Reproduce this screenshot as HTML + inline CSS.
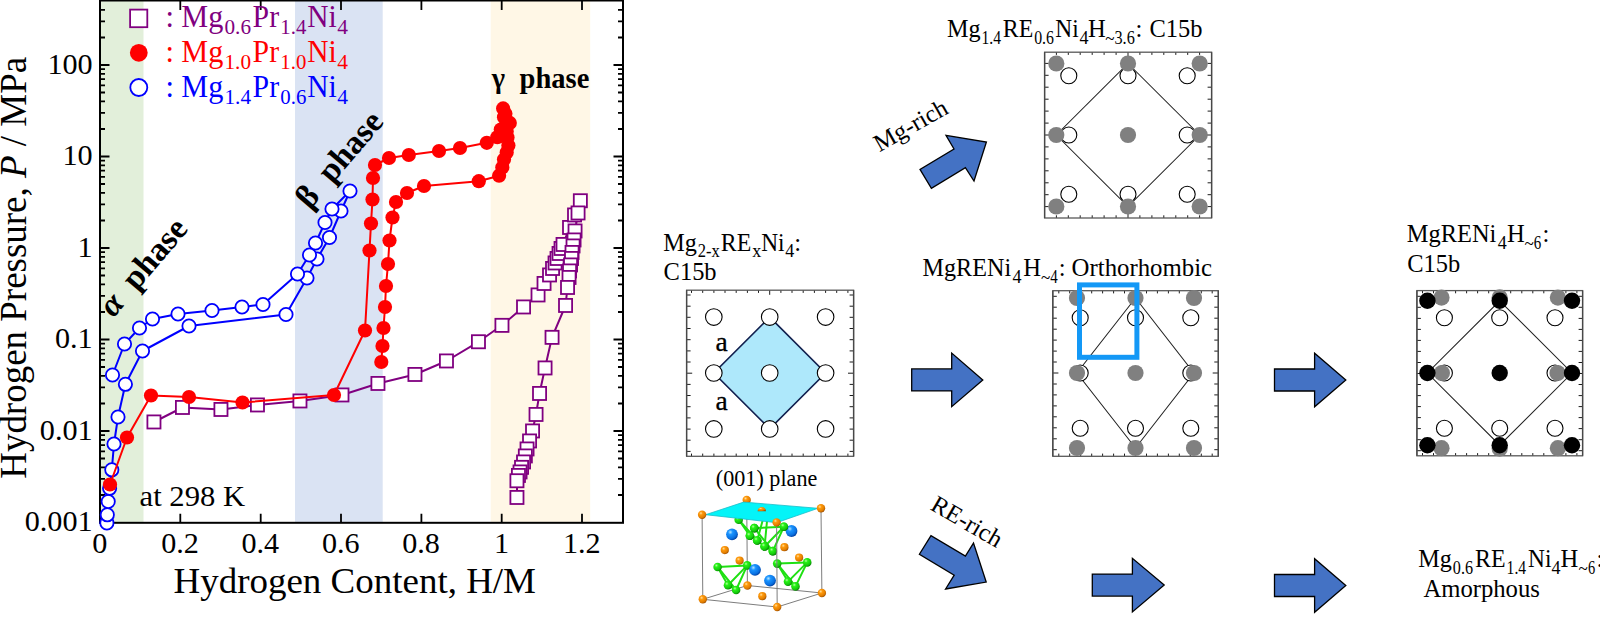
<!DOCTYPE html>
<html lang="en">
<head>
<meta charset="utf-8">
<title>Hydrogen pressure-composition isotherms of Mg-Pr-Ni alloys</title>
<style>
html,body{margin:0;padding:0;background:#fff;}
body{width:1600px;height:625px;overflow:hidden;}
svg{display:block;font-family:'Liberation Serif', 'Times New Roman', serif;}
text{white-space:pre;}
</style>
</head>
<body>
<svg width="1600" height="625" viewBox="0 0 1600 625">
<rect width="1600" height="625" fill="#fff"/>
<g id="pci-chart">
<rect x="101" y="0" width="42.5" height="522.8" fill="#e2efda"/>
<rect x="295" y="0" width="87.7" height="522.8" fill="#dae3f3"/>
<rect x="490.7" y="0" width="99.5" height="522.8" fill="#fff7e6"/>
<path d="M180.3 522.8v-9M180.3 0.5v9.5M260.7 522.8v-9M260.7 0.5v9.5M341.0 522.8v-9M341.0 0.5v9.5M421.4 522.8v-9M421.4 0.5v9.5M501.7 522.8v-9M501.7 0.5v9.5M582.0 522.8v-9M582.0 0.5v9.5M100.0 495.0h5M623.0 495.0h-5M100.0 478.8h5M623.0 478.8h-5M100.0 467.4h5M623.0 467.4h-5M100.0 458.5h5M623.0 458.5h-5M100.0 451.3h5M623.0 451.3h-5M100.0 445.2h5M623.0 445.2h-5M100.0 439.9h5M623.0 439.9h-5M100.0 435.2h5M623.0 435.2h-5M100.0 431.0h9.5M623.0 431.0h-9.5M100.0 403.5h5M623.0 403.5h-5M100.0 387.3h5M623.0 387.3h-5M100.0 375.9h5M623.0 375.9h-5M100.0 367.0h5M623.0 367.0h-5M100.0 359.8h5M623.0 359.8h-5M100.0 353.7h5M623.0 353.7h-5M100.0 348.4h5M623.0 348.4h-5M100.0 343.7h5M623.0 343.7h-5M100.0 339.5h9.5M623.0 339.5h-9.5M100.0 312.0h5M623.0 312.0h-5M100.0 295.8h5M623.0 295.8h-5M100.0 284.4h5M623.0 284.4h-5M100.0 275.5h5M623.0 275.5h-5M100.0 268.3h5M623.0 268.3h-5M100.0 262.2h5M623.0 262.2h-5M100.0 256.9h5M623.0 256.9h-5M100.0 252.2h5M623.0 252.2h-5M100.0 248.0h9.5M623.0 248.0h-9.5M100.0 220.5h5M623.0 220.5h-5M100.0 204.3h5M623.0 204.3h-5M100.0 192.9h5M623.0 192.9h-5M100.0 184.0h5M623.0 184.0h-5M100.0 176.8h5M623.0 176.8h-5M100.0 170.7h5M623.0 170.7h-5M100.0 165.4h5M623.0 165.4h-5M100.0 160.7h5M623.0 160.7h-5M100.0 156.5h9.5M623.0 156.5h-9.5M100.0 129.0h5M623.0 129.0h-5M100.0 112.8h5M623.0 112.8h-5M100.0 101.4h5M623.0 101.4h-5M100.0 92.5h5M623.0 92.5h-5M100.0 85.3h5M623.0 85.3h-5M100.0 79.2h5M623.0 79.2h-5M100.0 73.9h5M623.0 73.9h-5M100.0 69.2h5M623.0 69.2h-5M100.0 65.0h9.5M623.0 65.0h-9.5M100.0 37.5h5M623.0 37.5h-5M100.0 21.3h5M623.0 21.3h-5M100.0 9.9h5M623.0 9.9h-5" stroke="#000" stroke-width="1.8" fill="none"/>
<rect x="100.0" y="0.5" width="523.0" height="522.3" fill="none" stroke="#000" stroke-width="2"/>
<text x="47.4" y="73.7" font-size="29.4" fill="#000" textLength="45.2" lengthAdjust="spacingAndGlyphs">100</text>
<text x="62.4" y="165.2" font-size="29.4" fill="#000" textLength="30.2" lengthAdjust="spacingAndGlyphs">10</text>
<text x="77.5" y="256.7" font-size="29.4" fill="#000" textLength="15.1" lengthAdjust="spacingAndGlyphs">1</text>
<text x="54.9" y="348.2" font-size="29.4" fill="#000" textLength="37.7" lengthAdjust="spacingAndGlyphs">0.1</text>
<text x="39.8" y="439.7" font-size="29.4" fill="#000" textLength="52.8" lengthAdjust="spacingAndGlyphs">0.01</text>
<text x="24.7" y="531.2" font-size="29.4" fill="#000" textLength="67.9" lengthAdjust="spacingAndGlyphs">0.001</text>
<text x="92.2" y="552.7" font-size="29.4" fill="#000" textLength="15.1" lengthAdjust="spacingAndGlyphs">0</text>
<text x="161.2" y="552.7" font-size="29.4" fill="#000" textLength="37.7" lengthAdjust="spacingAndGlyphs">0.2</text>
<text x="241.5" y="552.7" font-size="29.4" fill="#000" textLength="37.7" lengthAdjust="spacingAndGlyphs">0.4</text>
<text x="321.9" y="552.7" font-size="29.4" fill="#000" textLength="37.7" lengthAdjust="spacingAndGlyphs">0.6</text>
<text x="402.2" y="552.7" font-size="29.4" fill="#000" textLength="37.7" lengthAdjust="spacingAndGlyphs">0.8</text>
<text x="493.9" y="552.7" font-size="29.4" fill="#000" textLength="15.1" lengthAdjust="spacingAndGlyphs">1</text>
<text x="562.9" y="552.7" font-size="29.4" fill="#000" textLength="37.7" lengthAdjust="spacingAndGlyphs">1.2</text>
<text x="173.5" y="592.7" font-size="36.6" fill="#000" textLength="362.5" lengthAdjust="spacingAndGlyphs">Hydrogen Content, H/M</text>
<text transform="translate(26.4 478.8) rotate(-90)" font-size="37" textLength="422" lengthAdjust="spacingAndGlyphs">Hydrogen Pressure, <tspan font-style="italic">P</tspan> / MPa</text>
<text x="139.6" y="505.6" font-size="29" fill="#000" textLength="105.5" lengthAdjust="spacingAndGlyphs">at 298 K</text>
<g id="series-purple">
<polyline points="154.0,422.0 182.5,407.5 221.0,409.5 257.5,405.0 300.0,401.0 342.0,395.0 378.0,383.5 415.0,374.5 446.5,361.0 478.5,341.8 502.0,325.3 523.5,307.0 538.0,295.0 544.0,283.5 549.5,275.0 552.5,268.5 555.0,263.0 557.0,258.5 559.0,253.5 561.0,248.5 563.0,244.5 569.5,227.5 574.5,215.0 580.3,200.8" fill="none" stroke="#800080" stroke-width="2" stroke-linejoin="round"/>
<polyline points="580.3,200.8 578.0,213.0 575.0,231.0 574.0,240.0 573.0,246.0 572.0,252.5 571.5,258.5 570.5,265.0 569.5,271.0 569.0,277.5 567.5,287.5 565.5,305.5 552.0,337.3 545.0,368.0 539.5,393.5 536.0,414.5 532.5,431.0 529.5,441.0 527.0,449.0 525.3,456.0 523.5,462.0 521.5,467.3 520.0,472.0 518.5,475.5 517.0,480.8 517.0,497.5" fill="none" stroke="#800080" stroke-width="2" stroke-linejoin="round"/>
<rect x="147.4" y="415.4" width="13.1" height="13.1" fill="#fff" stroke="#800080" stroke-width="1.8"/>
<rect x="175.9" y="400.9" width="13.1" height="13.1" fill="#fff" stroke="#800080" stroke-width="1.8"/>
<rect x="214.4" y="402.9" width="13.1" height="13.1" fill="#fff" stroke="#800080" stroke-width="1.8"/>
<rect x="250.9" y="398.4" width="13.1" height="13.1" fill="#fff" stroke="#800080" stroke-width="1.8"/>
<rect x="293.4" y="394.4" width="13.1" height="13.1" fill="#fff" stroke="#800080" stroke-width="1.8"/>
<rect x="335.4" y="388.4" width="13.1" height="13.1" fill="#fff" stroke="#800080" stroke-width="1.8"/>
<rect x="371.4" y="376.9" width="13.1" height="13.1" fill="#fff" stroke="#800080" stroke-width="1.8"/>
<rect x="408.4" y="367.9" width="13.1" height="13.1" fill="#fff" stroke="#800080" stroke-width="1.8"/>
<rect x="439.9" y="354.4" width="13.1" height="13.1" fill="#fff" stroke="#800080" stroke-width="1.8"/>
<rect x="471.9" y="335.2" width="13.1" height="13.1" fill="#fff" stroke="#800080" stroke-width="1.8"/>
<rect x="495.4" y="318.8" width="13.1" height="13.1" fill="#fff" stroke="#800080" stroke-width="1.8"/>
<rect x="517.0" y="300.4" width="13.1" height="13.1" fill="#fff" stroke="#800080" stroke-width="1.8"/>
<rect x="531.5" y="288.4" width="13.1" height="13.1" fill="#fff" stroke="#800080" stroke-width="1.8"/>
<rect x="537.5" y="276.9" width="13.1" height="13.1" fill="#fff" stroke="#800080" stroke-width="1.8"/>
<rect x="543.0" y="268.4" width="13.1" height="13.1" fill="#fff" stroke="#800080" stroke-width="1.8"/>
<rect x="546.0" y="261.9" width="13.1" height="13.1" fill="#fff" stroke="#800080" stroke-width="1.8"/>
<rect x="548.5" y="256.4" width="13.1" height="13.1" fill="#fff" stroke="#800080" stroke-width="1.8"/>
<rect x="550.5" y="251.9" width="13.1" height="13.1" fill="#fff" stroke="#800080" stroke-width="1.8"/>
<rect x="552.5" y="246.9" width="13.1" height="13.1" fill="#fff" stroke="#800080" stroke-width="1.8"/>
<rect x="554.5" y="241.9" width="13.1" height="13.1" fill="#fff" stroke="#800080" stroke-width="1.8"/>
<rect x="556.5" y="237.9" width="13.1" height="13.1" fill="#fff" stroke="#800080" stroke-width="1.8"/>
<rect x="563.0" y="220.9" width="13.1" height="13.1" fill="#fff" stroke="#800080" stroke-width="1.8"/>
<rect x="568.0" y="208.4" width="13.1" height="13.1" fill="#fff" stroke="#800080" stroke-width="1.8"/>
<rect x="573.8" y="194.2" width="13.1" height="13.1" fill="#fff" stroke="#800080" stroke-width="1.8"/>
<rect x="571.5" y="206.4" width="13.1" height="13.1" fill="#fff" stroke="#800080" stroke-width="1.8"/>
<rect x="568.5" y="224.4" width="13.1" height="13.1" fill="#fff" stroke="#800080" stroke-width="1.8"/>
<rect x="567.5" y="233.4" width="13.1" height="13.1" fill="#fff" stroke="#800080" stroke-width="1.8"/>
<rect x="566.5" y="239.4" width="13.1" height="13.1" fill="#fff" stroke="#800080" stroke-width="1.8"/>
<rect x="565.5" y="245.9" width="13.1" height="13.1" fill="#fff" stroke="#800080" stroke-width="1.8"/>
<rect x="565.0" y="251.9" width="13.1" height="13.1" fill="#fff" stroke="#800080" stroke-width="1.8"/>
<rect x="564.0" y="258.4" width="13.1" height="13.1" fill="#fff" stroke="#800080" stroke-width="1.8"/>
<rect x="563.0" y="264.4" width="13.1" height="13.1" fill="#fff" stroke="#800080" stroke-width="1.8"/>
<rect x="562.5" y="270.9" width="13.1" height="13.1" fill="#fff" stroke="#800080" stroke-width="1.8"/>
<rect x="561.0" y="280.9" width="13.1" height="13.1" fill="#fff" stroke="#800080" stroke-width="1.8"/>
<rect x="559.0" y="298.9" width="13.1" height="13.1" fill="#fff" stroke="#800080" stroke-width="1.8"/>
<rect x="545.5" y="330.8" width="13.1" height="13.1" fill="#fff" stroke="#800080" stroke-width="1.8"/>
<rect x="538.5" y="361.4" width="13.1" height="13.1" fill="#fff" stroke="#800080" stroke-width="1.8"/>
<rect x="533.0" y="386.9" width="13.1" height="13.1" fill="#fff" stroke="#800080" stroke-width="1.8"/>
<rect x="529.5" y="407.9" width="13.1" height="13.1" fill="#fff" stroke="#800080" stroke-width="1.8"/>
<rect x="526.0" y="424.4" width="13.1" height="13.1" fill="#fff" stroke="#800080" stroke-width="1.8"/>
<rect x="523.0" y="434.4" width="13.1" height="13.1" fill="#fff" stroke="#800080" stroke-width="1.8"/>
<rect x="520.5" y="442.4" width="13.1" height="13.1" fill="#fff" stroke="#800080" stroke-width="1.8"/>
<rect x="518.8" y="449.4" width="13.1" height="13.1" fill="#fff" stroke="#800080" stroke-width="1.8"/>
<rect x="517.0" y="455.4" width="13.1" height="13.1" fill="#fff" stroke="#800080" stroke-width="1.8"/>
<rect x="515.0" y="460.8" width="13.1" height="13.1" fill="#fff" stroke="#800080" stroke-width="1.8"/>
<rect x="513.5" y="465.4" width="13.1" height="13.1" fill="#fff" stroke="#800080" stroke-width="1.8"/>
<rect x="511.9" y="468.9" width="13.1" height="13.1" fill="#fff" stroke="#800080" stroke-width="1.8"/>
<rect x="510.4" y="474.2" width="13.1" height="13.1" fill="#fff" stroke="#800080" stroke-width="1.8"/>
<rect x="510.4" y="490.9" width="13.1" height="13.1" fill="#fff" stroke="#800080" stroke-width="1.8"/>
</g>
<g id="series-blue">
<polyline points="112.5,375.0 124.5,344.0 139.5,328.0 152.5,319.0 178.0,314.0 212.0,310.5 242.0,307.0 263.0,304.5 297.5,274.0 309.5,255.0 315.5,243.0 325.0,222.5 332.0,209.0 350.0,191.0" fill="none" stroke="#0000ff" stroke-width="2" stroke-linejoin="round"/>
<polyline points="350.0,191.0 341.0,211.0 329.5,237.5 317.0,259.0 307.0,278.0 286.0,314.5 189.0,326.0 142.5,351.0 125.4,384.3 118.0,417.0 114.0,444.0 111.8,469.8 109.6,488.3 108.2,501.5 107.3,514.8 106.9,522.9" fill="none" stroke="#0000ff" stroke-width="2" stroke-linejoin="round"/>
<circle cx="106.9" cy="522.9" r="6.65" fill="#fff" stroke="#0000ff" stroke-width="1.8"/>
<circle cx="107.3" cy="514.8" r="6.65" fill="#fff" stroke="#0000ff" stroke-width="1.8"/>
<circle cx="108.2" cy="501.5" r="6.65" fill="#fff" stroke="#0000ff" stroke-width="1.8"/>
<circle cx="109.6" cy="488.3" r="6.65" fill="#fff" stroke="#0000ff" stroke-width="1.8"/>
<circle cx="111.8" cy="469.8" r="6.65" fill="#fff" stroke="#0000ff" stroke-width="1.8"/>
<circle cx="114.0" cy="444.0" r="6.65" fill="#fff" stroke="#0000ff" stroke-width="1.8"/>
<circle cx="118.0" cy="417.0" r="6.65" fill="#fff" stroke="#0000ff" stroke-width="1.8"/>
<circle cx="125.4" cy="384.3" r="6.65" fill="#fff" stroke="#0000ff" stroke-width="1.8"/>
<circle cx="142.5" cy="351.0" r="6.65" fill="#fff" stroke="#0000ff" stroke-width="1.8"/>
<circle cx="189.0" cy="326.0" r="6.65" fill="#fff" stroke="#0000ff" stroke-width="1.8"/>
<circle cx="286.0" cy="314.5" r="6.65" fill="#fff" stroke="#0000ff" stroke-width="1.8"/>
<circle cx="307.0" cy="278.0" r="6.65" fill="#fff" stroke="#0000ff" stroke-width="1.8"/>
<circle cx="317.0" cy="259.0" r="6.65" fill="#fff" stroke="#0000ff" stroke-width="1.8"/>
<circle cx="329.5" cy="237.5" r="6.65" fill="#fff" stroke="#0000ff" stroke-width="1.8"/>
<circle cx="341.0" cy="211.0" r="6.65" fill="#fff" stroke="#0000ff" stroke-width="1.8"/>
<circle cx="350.0" cy="191.0" r="6.65" fill="#fff" stroke="#0000ff" stroke-width="1.8"/>
<circle cx="112.5" cy="375.0" r="6.65" fill="#fff" stroke="#0000ff" stroke-width="1.8"/>
<circle cx="124.5" cy="344.0" r="6.65" fill="#fff" stroke="#0000ff" stroke-width="1.8"/>
<circle cx="139.5" cy="328.0" r="6.65" fill="#fff" stroke="#0000ff" stroke-width="1.8"/>
<circle cx="152.5" cy="319.0" r="6.65" fill="#fff" stroke="#0000ff" stroke-width="1.8"/>
<circle cx="178.0" cy="314.0" r="6.65" fill="#fff" stroke="#0000ff" stroke-width="1.8"/>
<circle cx="212.0" cy="310.5" r="6.65" fill="#fff" stroke="#0000ff" stroke-width="1.8"/>
<circle cx="242.0" cy="307.0" r="6.65" fill="#fff" stroke="#0000ff" stroke-width="1.8"/>
<circle cx="263.0" cy="304.5" r="6.65" fill="#fff" stroke="#0000ff" stroke-width="1.8"/>
<circle cx="297.5" cy="274.0" r="6.65" fill="#fff" stroke="#0000ff" stroke-width="1.8"/>
<circle cx="309.5" cy="255.0" r="6.65" fill="#fff" stroke="#0000ff" stroke-width="1.8"/>
<circle cx="315.5" cy="243.0" r="6.65" fill="#fff" stroke="#0000ff" stroke-width="1.8"/>
<circle cx="325.0" cy="222.5" r="6.65" fill="#fff" stroke="#0000ff" stroke-width="1.8"/>
<circle cx="332.0" cy="209.0" r="6.65" fill="#fff" stroke="#0000ff" stroke-width="1.8"/>
</g>
<g id="series-red">
<polyline points="110.0,484.5 127.0,437.5 151.0,395.5 189.0,397.0 242.5,402.5 334.0,395.0 365.0,330.5 369.5,250.5 371.0,223.5 372.5,199.5 373.0,178.0 375.0,165.0 389.0,158.0 408.8,155.0 439.0,151.0 460.0,148.0 486.8,142.8 497.3,137.2 500.8,129.6 504.0,117.3 503.1,108.4" fill="none" stroke="#ff0000" stroke-width="2" stroke-linejoin="round"/>
<polyline points="503.1,108.4 505.4,113.8 509.8,122.9 506.7,131.4 507.5,137.5 508.4,145.5 506.7,152.5 504.0,159.5 502.3,167.5 499.1,175.7 478.8,181.2 424.0,186.0 407.0,193.0 396.0,202.0 392.5,217.5 389.5,240.5 388.0,264.0 386.0,286.0 385.0,307.0 383.5,328.0 382.5,346.0 381.3,362.0" fill="none" stroke="#ff0000" stroke-width="2" stroke-linejoin="round"/>
<circle cx="110.0" cy="484.5" r="7.1" fill="#ff0000"/>
<circle cx="127.0" cy="437.5" r="7.1" fill="#ff0000"/>
<circle cx="151.0" cy="395.5" r="7.1" fill="#ff0000"/>
<circle cx="189.0" cy="397.0" r="7.1" fill="#ff0000"/>
<circle cx="242.5" cy="402.5" r="7.1" fill="#ff0000"/>
<circle cx="334.0" cy="395.0" r="7.1" fill="#ff0000"/>
<circle cx="365.0" cy="330.5" r="7.1" fill="#ff0000"/>
<circle cx="369.5" cy="250.5" r="7.1" fill="#ff0000"/>
<circle cx="371.0" cy="223.5" r="7.1" fill="#ff0000"/>
<circle cx="372.5" cy="199.5" r="7.1" fill="#ff0000"/>
<circle cx="373.0" cy="178.0" r="7.1" fill="#ff0000"/>
<circle cx="375.0" cy="165.0" r="7.1" fill="#ff0000"/>
<circle cx="389.0" cy="158.0" r="7.1" fill="#ff0000"/>
<circle cx="408.8" cy="155.0" r="7.1" fill="#ff0000"/>
<circle cx="439.0" cy="151.0" r="7.1" fill="#ff0000"/>
<circle cx="460.0" cy="148.0" r="7.1" fill="#ff0000"/>
<circle cx="486.8" cy="142.8" r="7.1" fill="#ff0000"/>
<circle cx="497.3" cy="137.2" r="7.1" fill="#ff0000"/>
<circle cx="500.8" cy="129.6" r="7.1" fill="#ff0000"/>
<circle cx="504.0" cy="117.3" r="7.1" fill="#ff0000"/>
<circle cx="503.1" cy="108.4" r="7.1" fill="#ff0000"/>
<circle cx="505.4" cy="113.8" r="7.1" fill="#ff0000"/>
<circle cx="509.8" cy="122.9" r="7.1" fill="#ff0000"/>
<circle cx="506.7" cy="131.4" r="7.1" fill="#ff0000"/>
<circle cx="507.5" cy="137.5" r="7.1" fill="#ff0000"/>
<circle cx="508.4" cy="145.5" r="7.1" fill="#ff0000"/>
<circle cx="506.7" cy="152.5" r="7.1" fill="#ff0000"/>
<circle cx="504.0" cy="159.5" r="7.1" fill="#ff0000"/>
<circle cx="502.3" cy="167.5" r="7.1" fill="#ff0000"/>
<circle cx="499.1" cy="175.7" r="7.1" fill="#ff0000"/>
<circle cx="478.8" cy="181.2" r="7.1" fill="#ff0000"/>
<circle cx="424.0" cy="186.0" r="7.1" fill="#ff0000"/>
<circle cx="407.0" cy="193.0" r="7.1" fill="#ff0000"/>
<circle cx="396.0" cy="202.0" r="7.1" fill="#ff0000"/>
<circle cx="392.5" cy="217.5" r="7.1" fill="#ff0000"/>
<circle cx="389.5" cy="240.5" r="7.1" fill="#ff0000"/>
<circle cx="388.0" cy="264.0" r="7.1" fill="#ff0000"/>
<circle cx="386.0" cy="286.0" r="7.1" fill="#ff0000"/>
<circle cx="385.0" cy="307.0" r="7.1" fill="#ff0000"/>
<circle cx="383.5" cy="328.0" r="7.1" fill="#ff0000"/>
<circle cx="382.5" cy="346.0" r="7.1" fill="#ff0000"/>
<circle cx="381.3" cy="362.0" r="7.1" fill="#ff0000"/>
</g>
<text transform="translate(113.4 318.2) rotate(-49.5)" font-size="33.3" font-weight="bold"><tspan font-style="italic">α</tspan>  phase</text>
<text transform="translate(309.8 210.3) rotate(-49.5)" font-size="33.3" font-weight="bold">β  phase</text>
<text x="491.8" y="87.6" font-size="28.4" fill="#000" font-weight="bold">γ</text>
<text x="519.6" y="87.6" font-size="28.4" fill="#000" font-weight="bold" textLength="69.8" lengthAdjust="spacingAndGlyphs">phase</text>
<g id="legend">
<text x="165.4" y="27.3" font-size="30.5" fill="#800080">:</text>
<text x="181.3" y="27.3" font-size="30.5" fill="#800080" textLength="42.0" lengthAdjust="spacingAndGlyphs">Mg</text>
<text x="224.5" y="34.1" font-size="21.5" fill="#800080" textLength="26.5" lengthAdjust="spacingAndGlyphs">0.6</text>
<text x="252.6" y="27.3" font-size="30.5" fill="#800080" textLength="26.5" lengthAdjust="spacingAndGlyphs">Pr</text>
<text x="280.3" y="34.1" font-size="21.5" fill="#800080" textLength="26.0" lengthAdjust="spacingAndGlyphs">1.4</text>
<text x="307.2" y="27.3" font-size="30.5" fill="#800080" textLength="29.5" lengthAdjust="spacingAndGlyphs">Ni</text>
<text x="337.2" y="34.1" font-size="21.5" fill="#800080">4</text>
<text x="165.4" y="62.0" font-size="30.5" fill="#ff0000">:</text>
<text x="181.3" y="62.0" font-size="30.5" fill="#ff0000" textLength="42.0" lengthAdjust="spacingAndGlyphs">Mg</text>
<text x="224.5" y="68.8" font-size="21.5" fill="#ff0000" textLength="26.5" lengthAdjust="spacingAndGlyphs">1.0</text>
<text x="252.6" y="62.0" font-size="30.5" fill="#ff0000" textLength="26.5" lengthAdjust="spacingAndGlyphs">Pr</text>
<text x="280.3" y="68.8" font-size="21.5" fill="#ff0000" textLength="26.0" lengthAdjust="spacingAndGlyphs">1.0</text>
<text x="307.2" y="62.0" font-size="30.5" fill="#ff0000" textLength="29.5" lengthAdjust="spacingAndGlyphs">Ni</text>
<text x="337.2" y="68.8" font-size="21.5" fill="#ff0000">4</text>
<text x="165.4" y="96.8" font-size="30.5" fill="#0000ff">:</text>
<text x="181.3" y="96.8" font-size="30.5" fill="#0000ff" textLength="42.0" lengthAdjust="spacingAndGlyphs">Mg</text>
<text x="224.5" y="103.6" font-size="21.5" fill="#0000ff" textLength="26.5" lengthAdjust="spacingAndGlyphs">1.4</text>
<text x="252.6" y="96.8" font-size="30.5" fill="#0000ff" textLength="26.5" lengthAdjust="spacingAndGlyphs">Pr</text>
<text x="280.3" y="103.6" font-size="21.5" fill="#0000ff" textLength="26.0" lengthAdjust="spacingAndGlyphs">0.6</text>
<text x="307.2" y="96.8" font-size="30.5" fill="#0000ff" textLength="29.5" lengthAdjust="spacingAndGlyphs">Ni</text>
<text x="337.2" y="103.6" font-size="21.5" fill="#0000ff">4</text>
<rect x="130.1" y="9.6" width="17.2" height="17.6" fill="#fff" stroke="#800080" stroke-width="1.8"/>
<circle cx="138.8" cy="52.8" r="8.9" fill="#ff0000"/>
<circle cx="138.8" cy="87.5" r="8.5" fill="#fff" stroke="#0000ff" stroke-width="1.8"/>
</g>
</g>
<g id="scheme">
<g id="cell-c15b">
<polygon points="769.7,317.1 825.6,373.0 769.7,428.9 713.8,373.0" fill="#aee8fb" stroke="#12204f" stroke-width="1.6" stroke-linejoin="miter"/>
<path d="M691.5 290.2v2.7M691.5 456.3v-2.7M686.6 295.0h4.0M853.6 295.0h-4.0M702.7 290.2v2.7M702.7 456.3v-2.7M686.6 306.2h4.0M853.6 306.2h-4.0M713.9 290.2v2.7M713.9 456.3v-2.7M686.6 317.3h4.0M853.6 317.3h-4.0M725.0 290.2v2.7M725.0 456.3v-2.7M686.6 328.5h4.0M853.6 328.5h-4.0M736.2 290.2v2.7M736.2 456.3v-2.7M686.6 339.7h4.0M853.6 339.7h-4.0M747.4 290.2v2.7M747.4 456.3v-2.7M686.6 350.9h4.0M853.6 350.9h-4.0M758.5 290.2v2.7M758.5 456.3v-2.7M686.6 362.0h4.0M853.6 362.0h-4.0M769.7 290.2v4.6M769.7 456.3v-4.6M686.6 373.2h5.6M853.6 373.2h-5.6M780.9 290.2v2.7M780.9 456.3v-2.7M686.6 384.4h4.0M853.6 384.4h-4.0M792.0 290.2v2.7M792.0 456.3v-2.7M686.6 395.5h4.0M853.6 395.5h-4.0M803.2 290.2v2.7M803.2 456.3v-2.7M686.6 406.7h4.0M853.6 406.7h-4.0M814.4 290.2v2.7M814.4 456.3v-2.7M686.6 417.9h4.0M853.6 417.9h-4.0M825.6 290.2v2.7M825.6 456.3v-2.7M686.6 429.1h4.0M853.6 429.1h-4.0M836.7 290.2v2.7M836.7 456.3v-2.7M686.6 440.2h4.0M853.6 440.2h-4.0M847.9 290.2v2.7M847.9 456.3v-2.7M686.6 451.4h4.0M853.6 451.4h-4.0" stroke="#1c1c1c" stroke-width="1" fill="none"/>
<rect x="686.6" y="290.2" width="167.0" height="166.1" fill="none" stroke="#595959" stroke-width="1.3"/>
<path d="M686.6 290.2V456.3M853.6 290.2V456.3" stroke="#484848" stroke-width="1.3" fill="none"/>
<circle cx="713.8" cy="317.1" r="8.3" fill="#fff" stroke="#000" stroke-width="1.1"/>
<circle cx="769.7" cy="317.1" r="8.3" fill="#fff" stroke="#000" stroke-width="1.1"/>
<circle cx="825.6" cy="317.1" r="8.3" fill="#fff" stroke="#000" stroke-width="1.1"/>
<circle cx="713.8" cy="373.0" r="8.3" fill="#fff" stroke="#000" stroke-width="1.1"/>
<circle cx="769.7" cy="373.0" r="8.3" fill="#fff" stroke="#000" stroke-width="1.1"/>
<circle cx="825.6" cy="373.0" r="8.3" fill="#fff" stroke="#000" stroke-width="1.1"/>
<circle cx="713.8" cy="428.9" r="8.3" fill="#fff" stroke="#000" stroke-width="1.1"/>
<circle cx="769.7" cy="428.9" r="8.3" fill="#fff" stroke="#000" stroke-width="1.1"/>
<circle cx="825.6" cy="428.9" r="8.3" fill="#fff" stroke="#000" stroke-width="1.1"/>
<text x="715.6" y="351.2" font-size="27.5" fill="#000" stroke="#000" stroke-width="0.3">a</text>
<text x="715.6" y="409.7" font-size="27.5" fill="#000" stroke="#000" stroke-width="0.3">a</text>
</g>
<text x="663.2" y="250.6" font-size="24.6" fill="#000" textLength="33.6" lengthAdjust="spacingAndGlyphs">Mg</text>
<text x="697.8" y="257.3" font-size="18.0" fill="#000" textLength="22.0" lengthAdjust="spacingAndGlyphs">2-x</text>
<text x="720.8" y="250.6" font-size="24.6" fill="#000" textLength="30.5" lengthAdjust="spacingAndGlyphs">RE</text>
<text x="752.3" y="257.3" font-size="18.0" fill="#000">x</text>
<text x="761.2" y="250.6" font-size="24.6" fill="#000" textLength="23.4" lengthAdjust="spacingAndGlyphs">Ni</text>
<text x="785.3" y="257.3" font-size="18.0" fill="#000">4</text>
<text x="794.2" y="250.6" font-size="24.6" fill="#000">:</text>
<text x="663.6" y="280.2" font-size="24.6" fill="#000" textLength="53.0" lengthAdjust="spacingAndGlyphs">C15b</text>
<g id="cell-mg-rich">
<polygon points="1128.0,63.5 1199.7,135.0 1128.0,206.5 1056.3,135.0" fill="none" stroke="#222" stroke-width="1.05" stroke-linejoin="miter"/>
<path d="M1056.4 52.2v2.7M1056.4 218.0v-2.7M1044.6 63.4h4.0M1211.6 63.4h-4.0M1068.3 52.2v2.7M1068.3 218.0v-2.7M1044.6 75.3h4.0M1211.6 75.3h-4.0M1080.2 52.2v2.7M1080.2 218.0v-2.7M1044.6 87.2h4.0M1211.6 87.2h-4.0M1092.2 52.2v2.7M1092.2 218.0v-2.7M1044.6 99.2h4.0M1211.6 99.2h-4.0M1104.1 52.2v2.7M1104.1 218.0v-2.7M1044.6 111.1h4.0M1211.6 111.1h-4.0M1116.1 52.2v2.7M1116.1 218.0v-2.7M1044.6 123.1h4.0M1211.6 123.1h-4.0M1128.0 52.2v4.6M1128.0 218.0v-4.6M1044.6 135.0h5.6M1211.6 135.0h-5.6M1139.9 52.2v2.7M1139.9 218.0v-2.7M1044.6 146.9h4.0M1211.6 146.9h-4.0M1151.9 52.2v2.7M1151.9 218.0v-2.7M1044.6 158.9h4.0M1211.6 158.9h-4.0M1163.8 52.2v2.7M1163.8 218.0v-2.7M1044.6 170.8h4.0M1211.6 170.8h-4.0M1175.8 52.2v2.7M1175.8 218.0v-2.7M1044.6 182.8h4.0M1211.6 182.8h-4.0M1187.7 52.2v2.7M1187.7 218.0v-2.7M1044.6 194.7h4.0M1211.6 194.7h-4.0M1199.6 52.2v2.7M1199.6 218.0v-2.7M1044.6 206.6h4.0M1211.6 206.6h-4.0" stroke="#1c1c1c" stroke-width="1" fill="none"/>
<rect x="1044.6" y="52.2" width="167.0" height="165.8" fill="none" stroke="#595959" stroke-width="1.3"/>
<path d="M1044.6 52.2V218.0M1211.6 52.2V218.0" stroke="#484848" stroke-width="1.3" fill="none"/>
<circle cx="1068.8" cy="75.8" r="8.0" fill="#fff" stroke="#000" stroke-width="1.1"/>
<circle cx="1128.0" cy="75.8" r="8.0" fill="#fff" stroke="#000" stroke-width="1.1"/>
<circle cx="1187.2" cy="75.8" r="8.0" fill="#fff" stroke="#000" stroke-width="1.1"/>
<circle cx="1068.8" cy="135.0" r="8.0" fill="#fff" stroke="#000" stroke-width="1.1"/>
<circle cx="1187.2" cy="135.0" r="8.0" fill="#fff" stroke="#000" stroke-width="1.1"/>
<circle cx="1068.8" cy="194.2" r="8.0" fill="#fff" stroke="#000" stroke-width="1.1"/>
<circle cx="1128.0" cy="194.2" r="8.0" fill="#fff" stroke="#000" stroke-width="1.1"/>
<circle cx="1187.2" cy="194.2" r="8.0" fill="#fff" stroke="#000" stroke-width="1.1"/>
<circle cx="1056.3" cy="63.5" r="8.1" fill="#808080"/>
<circle cx="1128.0" cy="63.5" r="8.1" fill="#808080"/>
<circle cx="1199.7" cy="63.5" r="8.1" fill="#808080"/>
<circle cx="1056.3" cy="135.0" r="8.1" fill="#808080"/>
<circle cx="1128.0" cy="135.0" r="8.1" fill="#808080"/>
<circle cx="1199.7" cy="135.0" r="8.1" fill="#808080"/>
<circle cx="1056.3" cy="206.5" r="8.1" fill="#808080"/>
<circle cx="1128.0" cy="206.5" r="8.1" fill="#808080"/>
<circle cx="1199.7" cy="206.5" r="8.1" fill="#808080"/>
</g>
<text x="947.0" y="37.2" font-size="24.6" fill="#000" textLength="33.6" lengthAdjust="spacingAndGlyphs">Mg</text>
<text x="981.5" y="43.9" font-size="18.0" fill="#000" textLength="19.5" lengthAdjust="spacingAndGlyphs">1.4</text>
<text x="1002.8" y="37.2" font-size="24.6" fill="#000" textLength="30.5" lengthAdjust="spacingAndGlyphs">RE</text>
<text x="1034.2" y="43.9" font-size="18.0" fill="#000" textLength="19.8" lengthAdjust="spacingAndGlyphs">0.6</text>
<text x="1055.3" y="37.2" font-size="24.6" fill="#000" textLength="23.4" lengthAdjust="spacingAndGlyphs">Ni</text>
<text x="1079.4" y="43.9" font-size="18.0" fill="#000">4</text>
<text x="1088.0" y="37.2" font-size="24.6" fill="#000">H</text>
<text x="1105.2" y="44.7" font-size="18.0" fill="#000" textLength="9.3" lengthAdjust="spacingAndGlyphs">~</text>
<text x="1114.5" y="43.9" font-size="18.0" fill="#000" textLength="20.3" lengthAdjust="spacingAndGlyphs">3.6</text>
<text x="1135.6" y="37.2" font-size="24.6" fill="#000">:</text>
<text x="1149.5" y="37.2" font-size="24.6" fill="#000" textLength="53.0" lengthAdjust="spacingAndGlyphs">C15b</text>
<g id="cell-orthorhombic">
<polygon points="1135.5,298.0 1193.9,373.0 1135.5,448.0 1076.9,373.0" fill="none" stroke="#222" stroke-width="1.05" stroke-linejoin="miter"/>
<path d="M1058.8 290.7v2.7M1058.8 456.3v-2.7M1052.8 296.3h4.0M1218.3 296.3h-4.0M1069.7 290.7v2.7M1069.7 456.3v-2.7M1052.8 307.2h4.0M1218.3 307.2h-4.0M1080.7 290.7v2.7M1080.7 456.3v-2.7M1052.8 318.2h4.0M1218.3 318.2h-4.0M1091.7 290.7v2.7M1091.7 456.3v-2.7M1052.8 329.2h4.0M1218.3 329.2h-4.0M1102.6 290.7v2.7M1102.6 456.3v-2.7M1052.8 340.1h4.0M1218.3 340.1h-4.0M1113.6 290.7v2.7M1113.6 456.3v-2.7M1052.8 351.1h4.0M1218.3 351.1h-4.0M1124.5 290.7v2.7M1124.5 456.3v-2.7M1052.8 362.0h4.0M1218.3 362.0h-4.0M1135.5 290.7v4.6M1135.5 456.3v-4.6M1052.8 373.0h5.6M1218.3 373.0h-5.6M1146.5 290.7v2.7M1146.5 456.3v-2.7M1052.8 384.0h4.0M1218.3 384.0h-4.0M1157.4 290.7v2.7M1157.4 456.3v-2.7M1052.8 394.9h4.0M1218.3 394.9h-4.0M1168.4 290.7v2.7M1168.4 456.3v-2.7M1052.8 405.9h4.0M1218.3 405.9h-4.0M1179.3 290.7v2.7M1179.3 456.3v-2.7M1052.8 416.8h4.0M1218.3 416.8h-4.0M1190.3 290.7v2.7M1190.3 456.3v-2.7M1052.8 427.8h4.0M1218.3 427.8h-4.0M1201.3 290.7v2.7M1201.3 456.3v-2.7M1052.8 438.8h4.0M1218.3 438.8h-4.0M1212.2 290.7v2.7M1212.2 456.3v-2.7M1052.8 449.7h4.0M1218.3 449.7h-4.0" stroke="#1c1c1c" stroke-width="1" fill="none"/>
<rect x="1052.8" y="290.7" width="165.5" height="165.6" fill="none" stroke="#595959" stroke-width="1.3"/>
<path d="M1052.8 290.7V456.3M1218.3 290.7V456.3" stroke="#484848" stroke-width="1.3" fill="none"/>
<circle cx="1080.2" cy="317.7" r="8.0" fill="#fff" stroke="#000" stroke-width="1.1"/>
<circle cx="1135.5" cy="317.7" r="8.0" fill="#fff" stroke="#000" stroke-width="1.1"/>
<circle cx="1190.8" cy="317.7" r="8.0" fill="#fff" stroke="#000" stroke-width="1.1"/>
<circle cx="1080.2" cy="373.0" r="8.0" fill="#fff" stroke="#000" stroke-width="1.1"/>
<circle cx="1190.8" cy="373.0" r="8.0" fill="#fff" stroke="#000" stroke-width="1.1"/>
<circle cx="1080.2" cy="428.3" r="8.0" fill="#fff" stroke="#000" stroke-width="1.1"/>
<circle cx="1135.5" cy="428.3" r="8.0" fill="#fff" stroke="#000" stroke-width="1.1"/>
<circle cx="1190.8" cy="428.3" r="8.0" fill="#fff" stroke="#000" stroke-width="1.1"/>
<circle cx="1077.0" cy="298.0" r="8.1" fill="#808080"/>
<circle cx="1135.5" cy="298.0" r="8.1" fill="#808080"/>
<circle cx="1194.0" cy="298.0" r="8.1" fill="#808080"/>
<circle cx="1077.0" cy="373.0" r="8.1" fill="#808080"/>
<circle cx="1135.5" cy="373.0" r="8.1" fill="#808080"/>
<circle cx="1194.0" cy="373.0" r="8.1" fill="#808080"/>
<circle cx="1077.0" cy="448.0" r="8.1" fill="#808080"/>
<circle cx="1135.5" cy="448.0" r="8.1" fill="#808080"/>
<circle cx="1194.0" cy="448.0" r="8.1" fill="#808080"/>
<rect x="1079.5" y="284.9" width="57.4" height="72.4" fill="none" stroke="#1398f6" stroke-width="5"/>
</g>
<text x="922.6" y="276.0" font-size="24.6" fill="#000" textLength="88.5" lengthAdjust="spacingAndGlyphs">MgRENi</text>
<text x="1012.6" y="282.7" font-size="18.0" fill="#000">4</text>
<text x="1023.3" y="276.0" font-size="24.6" fill="#000">H</text>
<text x="1041.0" y="283.5" font-size="18.0" fill="#000" textLength="9.3" lengthAdjust="spacingAndGlyphs">~</text>
<text x="1050.3" y="282.7" font-size="18.0" fill="#000" textLength="7.5" lengthAdjust="spacingAndGlyphs">4</text>
<text x="1058.8" y="276.0" font-size="24.6" fill="#000">:</text>
<text x="1071.6" y="276.0" font-size="24.6" fill="#000" textLength="140.5" lengthAdjust="spacingAndGlyphs">Orthorhombic</text>
<g id="cell-h6">
<polygon points="1499.7,300.8 1572.0,373.0 1499.7,445.2 1427.4,373.0" fill="none" stroke="#222" stroke-width="1.05" stroke-linejoin="miter"/>
<path d="M1422.5 290.6v2.7M1422.5 455.8v-2.7M1416.9 296.3h4.0M1582.6 296.3h-4.0M1433.5 290.6v2.7M1433.5 455.8v-2.7M1416.9 307.3h4.0M1582.6 307.3h-4.0M1444.5 290.6v2.7M1444.5 455.8v-2.7M1416.9 318.4h4.0M1582.6 318.4h-4.0M1455.6 290.6v2.7M1455.6 455.8v-2.7M1416.9 329.4h4.0M1582.6 329.4h-4.0M1466.6 290.6v2.7M1466.6 455.8v-2.7M1416.9 340.4h4.0M1582.6 340.4h-4.0M1477.6 290.6v2.7M1477.6 455.8v-2.7M1416.9 351.4h4.0M1582.6 351.4h-4.0M1488.7 290.6v2.7M1488.7 455.8v-2.7M1416.9 362.5h4.0M1582.6 362.5h-4.0M1499.7 290.6v4.6M1499.7 455.8v-4.6M1416.9 373.5h5.6M1582.6 373.5h-5.6M1510.7 290.6v2.7M1510.7 455.8v-2.7M1416.9 384.5h4.0M1582.6 384.5h-4.0M1521.8 290.6v2.7M1521.8 455.8v-2.7M1416.9 395.6h4.0M1582.6 395.6h-4.0M1532.8 290.6v2.7M1532.8 455.8v-2.7M1416.9 406.6h4.0M1582.6 406.6h-4.0M1543.8 290.6v2.7M1543.8 455.8v-2.7M1416.9 417.6h4.0M1582.6 417.6h-4.0M1554.9 290.6v2.7M1554.9 455.8v-2.7M1416.9 428.6h4.0M1582.6 428.6h-4.0M1565.9 290.6v2.7M1565.9 455.8v-2.7M1416.9 439.7h4.0M1582.6 439.7h-4.0M1576.9 290.6v2.7M1576.9 455.8v-2.7M1416.9 450.7h4.0M1582.6 450.7h-4.0" stroke="#1c1c1c" stroke-width="1" fill="none"/>
<rect x="1416.9" y="290.6" width="165.7" height="165.2" fill="none" stroke="#595959" stroke-width="1.3"/>
<path d="M1416.9 290.6V455.8M1582.6 290.6V455.8" stroke="#484848" stroke-width="1.3" fill="none"/>
<circle cx="1444.4" cy="317.8" r="8.0" fill="#fff" stroke="#000" stroke-width="1.1"/>
<circle cx="1499.7" cy="317.8" r="8.0" fill="#fff" stroke="#000" stroke-width="1.1"/>
<circle cx="1555.0" cy="317.8" r="8.0" fill="#fff" stroke="#000" stroke-width="1.1"/>
<circle cx="1444.4" cy="373.0" r="8.0" fill="#fff" stroke="#000" stroke-width="1.1"/>
<circle cx="1555.0" cy="373.0" r="8.0" fill="#fff" stroke="#000" stroke-width="1.1"/>
<circle cx="1444.4" cy="428.2" r="8.0" fill="#fff" stroke="#000" stroke-width="1.1"/>
<circle cx="1499.7" cy="428.2" r="8.0" fill="#fff" stroke="#000" stroke-width="1.1"/>
<circle cx="1555.0" cy="428.2" r="8.0" fill="#fff" stroke="#000" stroke-width="1.1"/>
<circle cx="1441.5" cy="297.6" r="8.1" fill="#808080"/>
<circle cx="1499.7" cy="297.4" r="8.1" fill="#808080"/>
<circle cx="1557.9" cy="297.6" r="8.1" fill="#808080"/>
<circle cx="1441.9" cy="373.0" r="8.1" fill="#808080"/>
<circle cx="1557.5" cy="373.0" r="8.1" fill="#808080"/>
<circle cx="1441.5" cy="448.2" r="8.1" fill="#808080"/>
<circle cx="1499.7" cy="448.6" r="8.1" fill="#808080"/>
<circle cx="1557.9" cy="448.2" r="8.1" fill="#808080"/>
<circle cx="1427.4" cy="300.8" r="8.2" fill="#000"/>
<circle cx="1499.7" cy="300.8" r="8.2" fill="#000"/>
<circle cx="1572.0" cy="300.8" r="8.2" fill="#000"/>
<circle cx="1427.4" cy="373.0" r="8.2" fill="#000"/>
<circle cx="1499.7" cy="373.0" r="8.2" fill="#000"/>
<circle cx="1572.0" cy="373.0" r="8.2" fill="#000"/>
<circle cx="1427.4" cy="445.2" r="8.2" fill="#000"/>
<circle cx="1499.7" cy="445.2" r="8.2" fill="#000"/>
<circle cx="1572.0" cy="445.2" r="8.2" fill="#000"/>
</g>
<text x="1406.8" y="242.4" font-size="24.6" fill="#000" textLength="89.5" lengthAdjust="spacingAndGlyphs">MgRENi</text>
<text x="1497.8" y="249.1" font-size="18.0" fill="#000">4</text>
<text x="1507.0" y="242.4" font-size="24.6" fill="#000">H</text>
<text x="1524.4" y="249.9" font-size="18.0" fill="#000" textLength="9.3" lengthAdjust="spacingAndGlyphs">~</text>
<text x="1533.7" y="249.1" font-size="18.0" fill="#000" textLength="7.5" lengthAdjust="spacingAndGlyphs">6</text>
<text x="1542.4" y="242.4" font-size="24.6" fill="#000">:</text>
<text x="1407.2" y="272.2" font-size="24.6" fill="#000" textLength="53.0" lengthAdjust="spacingAndGlyphs">C15b</text>
<g id="arrows">
<polygon points="911.7,368.9 951.7,368.9 951.7,353.1 982.8,379.9 951.7,406.7 951.7,390.9 911.7,390.9" fill="#4472c4" stroke="#000" stroke-width="1.3" stroke-linejoin="miter"/>
<polygon points="1274.5,369.0 1314.6,369.0 1314.6,353.2 1345.8,380.0 1314.6,406.8 1314.6,391.0 1274.5,391.0" fill="#4472c4" stroke="#000" stroke-width="1.3" stroke-linejoin="miter"/>
<polygon points="1092.3,574.1 1132.4,574.1 1132.4,558.3 1164.2,585.1 1132.4,611.9 1132.4,596.1 1092.3,596.1" fill="#4472c4" stroke="#000" stroke-width="1.3" stroke-linejoin="miter"/>
<polygon points="1274.5,574.5 1314.6,574.5 1314.6,558.7 1345.8,585.5 1314.6,612.3 1314.6,596.5 1274.5,596.5" fill="#4472c4" stroke="#000" stroke-width="1.3" stroke-linejoin="miter"/>
<polygon points="920.0,169.4 931.4,188.4 965.4,167.6 974.0,181.0 986.4,142.0 946.0,135.4 954.0,149.0" fill="#4472c4" stroke="#000" stroke-width="1.3" stroke-linejoin="miter"/>
<polygon points="931.0,535.7 919.4,554.2 954.2,575.1 945.6,589.0 986.2,582.1 973.5,543.1 965.4,556.1" fill="#4472c4" stroke="#000" stroke-width="1.3" stroke-linejoin="miter"/>
</g>
<text transform="translate(879.5 152.2) rotate(-29.4)" font-size="24.6" textLength="80.5" lengthAdjust="spacingAndGlyphs">Mg-rich</text>
<text transform="translate(929.2 509.0) rotate(30.2)" font-size="24.6" textLength="78" lengthAdjust="spacingAndGlyphs">RE-rich</text>
<text x="715.8" y="486.4" font-size="22.2" fill="#000" textLength="101.5" lengthAdjust="spacingAndGlyphs">(001) plane</text>
<text x="1418.2" y="567.0" font-size="24.6" fill="#000" textLength="33.6" lengthAdjust="spacingAndGlyphs">Mg</text>
<text x="1452.8" y="573.7" font-size="18.0" fill="#000" textLength="20.2" lengthAdjust="spacingAndGlyphs">0.6</text>
<text x="1475.0" y="567.0" font-size="24.6" fill="#000" textLength="30.5" lengthAdjust="spacingAndGlyphs">RE</text>
<text x="1506.6" y="573.7" font-size="18.0" fill="#000" textLength="19.5" lengthAdjust="spacingAndGlyphs">1.4</text>
<text x="1528.0" y="567.0" font-size="24.6" fill="#000" textLength="23.4" lengthAdjust="spacingAndGlyphs">Ni</text>
<text x="1551.6" y="573.7" font-size="18.0" fill="#000">4</text>
<text x="1560.6" y="567.0" font-size="24.6" fill="#000">H</text>
<text x="1578.6" y="574.5" font-size="18.0" fill="#000" textLength="9.3" lengthAdjust="spacingAndGlyphs">~</text>
<text x="1587.9" y="573.7" font-size="18.0" fill="#000" textLength="7.2" lengthAdjust="spacingAndGlyphs">6</text>
<text x="1596.6" y="567.0" font-size="24.6" fill="#000">:</text>
<text x="1423.4" y="596.8" font-size="24.6" fill="#000" textLength="116.5" lengthAdjust="spacingAndGlyphs">Amorphous</text>
<defs>
<radialGradient id="gO" cx="0.36" cy="0.32" r="0.72"><stop offset="0" stop-color="#ffe0a0"/><stop offset="0.28" stop-color="#ff9a0c"/><stop offset="0.75" stop-color="#e07c00"/><stop offset="1" stop-color="#9a4c00"/></radialGradient>
<radialGradient id="gB" cx="0.36" cy="0.32" r="0.72"><stop offset="0" stop-color="#b4e6ff"/><stop offset="0.28" stop-color="#1a94ff"/><stop offset="0.75" stop-color="#0a70e0"/><stop offset="1" stop-color="#003c9c"/></radialGradient>
<radialGradient id="gG" cx="0.36" cy="0.32" r="0.72"><stop offset="0" stop-color="#b4ffa0"/><stop offset="0.28" stop-color="#26f216"/><stop offset="0.75" stop-color="#14c80c"/><stop offset="1" stop-color="#067c02"/></radialGradient>
</defs>
<g id="crystal">
<line x1="746.7" y1="499.9" x2="747.4" y2="585.5" stroke="#7d7d7d" stroke-width="1.0" stroke-linecap="round"/>
<line x1="702.8" y1="599.3" x2="747.4" y2="585.5" stroke="#7d7d7d" stroke-width="1.0" stroke-linecap="round"/>
<line x1="747.4" y1="585.5" x2="821.9" y2="593.0" stroke="#7d7d7d" stroke-width="1.0" stroke-linecap="round"/>
<circle cx="747.4" cy="585.5" r="4.2" fill="url(#gO)"/>
<circle cx="746.7" cy="499.9" r="4.2" fill="url(#gO)"/>
<circle cx="724.8" cy="550.1" r="4.1" fill="url(#gO)"/>
<circle cx="739.6" cy="560.6" r="4.1" fill="url(#gO)"/>
<circle cx="784.4" cy="547.2" r="4.1" fill="url(#gO)"/>
<circle cx="799.1" cy="557.6" r="4.1" fill="url(#gO)"/>
<circle cx="762.3" cy="596.2" r="4.1" fill="url(#gO)"/>
<circle cx="732.0" cy="534.3" r="5.9" fill="url(#gB)"/>
<circle cx="791.5" cy="531.0" r="5.9" fill="url(#gB)"/>
<line x1="738.7" y1="519.7" x2="749.9" y2="535.7" stroke="#1ee012" stroke-width="2.0" stroke-linecap="round"/>
<line x1="738.7" y1="519.7" x2="757.2" y2="540.5" stroke="#1ee012" stroke-width="2.0" stroke-linecap="round"/>
<line x1="754.3" y1="528.1" x2="783.9" y2="526.7" stroke="#1ee012" stroke-width="2.0" stroke-linecap="round"/>
<line x1="754.3" y1="528.1" x2="772.8" y2="551.1" stroke="#1ee012" stroke-width="2.0" stroke-linecap="round"/>
<line x1="783.9" y1="526.7" x2="772.8" y2="551.1" stroke="#1ee012" stroke-width="2.0" stroke-linecap="round"/>
<line x1="783.9" y1="526.7" x2="764.6" y2="546.5" stroke="#1ee012" stroke-width="2.0" stroke-linecap="round"/>
<line x1="749.9" y1="535.7" x2="757.2" y2="540.5" stroke="#1ee012" stroke-width="2.0" stroke-linecap="round"/>
<line x1="757.2" y1="540.5" x2="764.6" y2="546.5" stroke="#1ee012" stroke-width="2.0" stroke-linecap="round"/>
<line x1="764.6" y1="546.5" x2="772.8" y2="551.1" stroke="#1ee012" stroke-width="2.0" stroke-linecap="round"/>
<line x1="754.3" y1="528.1" x2="749.9" y2="535.7" stroke="#1ee012" stroke-width="2.0" stroke-linecap="round"/>
<circle cx="738.7" cy="519.7" r="4.3" fill="url(#gG)"/>
<circle cx="754.3" cy="528.1" r="4.3" fill="url(#gG)"/>
<circle cx="783.9" cy="526.7" r="4.3" fill="url(#gG)"/>
<circle cx="749.9" cy="535.7" r="4.3" fill="url(#gG)"/>
<circle cx="757.2" cy="540.5" r="4.3" fill="url(#gG)"/>
<circle cx="764.6" cy="546.5" r="4.3" fill="url(#gG)"/>
<circle cx="772.8" cy="551.1" r="4.3" fill="url(#gG)"/>
<line x1="762.5" y1="521.0" x2="757.2" y2="540.5" stroke="#1ee012" stroke-width="2.0" stroke-linecap="round"/>
<line x1="767.0" y1="521.0" x2="764.6" y2="546.5" stroke="#1ee012" stroke-width="2.0" stroke-linecap="round"/>
<circle cx="754.3" cy="528.1" r="4.3" fill="url(#gG)"/>
<circle cx="783.9" cy="526.7" r="4.3" fill="url(#gG)"/>
<circle cx="749.9" cy="535.7" r="4.3" fill="url(#gG)"/>
<circle cx="757.2" cy="540.5" r="4.3" fill="url(#gG)"/>
<circle cx="764.6" cy="546.5" r="4.3" fill="url(#gG)"/>
<circle cx="772.8" cy="551.1" r="4.3" fill="url(#gG)"/>
<line x1="717.6" y1="567.0" x2="747.2" y2="565.4" stroke="#1ee012" stroke-width="2.0" stroke-linecap="round"/>
<line x1="717.6" y1="567.0" x2="728.0" y2="585.2" stroke="#1ee012" stroke-width="2.0" stroke-linecap="round"/>
<line x1="717.6" y1="567.0" x2="736.1" y2="590.0" stroke="#1ee012" stroke-width="2.0" stroke-linecap="round"/>
<line x1="747.2" y1="565.4" x2="728.0" y2="585.2" stroke="#1ee012" stroke-width="2.0" stroke-linecap="round"/>
<line x1="747.2" y1="565.4" x2="736.1" y2="590.0" stroke="#1ee012" stroke-width="2.0" stroke-linecap="round"/>
<line x1="728.0" y1="585.2" x2="736.1" y2="590.0" stroke="#1ee012" stroke-width="2.0" stroke-linecap="round"/>
<circle cx="717.6" cy="567.0" r="4.3" fill="url(#gG)"/>
<circle cx="747.2" cy="565.4" r="4.3" fill="url(#gG)"/>
<circle cx="728.0" cy="585.2" r="4.3" fill="url(#gG)"/>
<circle cx="736.1" cy="590.0" r="4.3" fill="url(#gG)"/>
<line x1="777.2" y1="563.6" x2="807.2" y2="562.4" stroke="#1ee012" stroke-width="2.0" stroke-linecap="round"/>
<line x1="777.2" y1="563.6" x2="788.0" y2="581.6" stroke="#1ee012" stroke-width="2.0" stroke-linecap="round"/>
<line x1="777.2" y1="563.6" x2="795.5" y2="586.4" stroke="#1ee012" stroke-width="2.0" stroke-linecap="round"/>
<line x1="807.2" y1="562.4" x2="788.0" y2="581.6" stroke="#1ee012" stroke-width="2.0" stroke-linecap="round"/>
<line x1="807.2" y1="562.4" x2="795.5" y2="586.4" stroke="#1ee012" stroke-width="2.0" stroke-linecap="round"/>
<line x1="788.0" y1="581.6" x2="795.5" y2="586.4" stroke="#1ee012" stroke-width="2.0" stroke-linecap="round"/>
<circle cx="777.2" cy="563.6" r="4.3" fill="url(#gG)"/>
<circle cx="807.2" cy="562.4" r="4.3" fill="url(#gG)"/>
<circle cx="788.0" cy="581.6" r="4.3" fill="url(#gG)"/>
<circle cx="795.5" cy="586.4" r="4.3" fill="url(#gG)"/>
<circle cx="755.0" cy="569.8" r="5.9" fill="url(#gB)"/>
<circle cx="770.0" cy="580.6" r="5.9" fill="url(#gB)"/>
<polygon points="705.6,514.7 743.7,502.1 818.0,508.3 776.6,522.7" fill="#04f4f8" stroke="#1cbcc8" stroke-width="0.8"/>
<path d="M757.6 511.2a4.2 4.2 0 0 1 8.4 0z" fill="url(#gO)"/>
<line x1="702.1" y1="514.7" x2="702.8" y2="599.3" stroke="#7d7d7d" stroke-width="1.0" stroke-linecap="round"/>
<line x1="821.0" y1="508.3" x2="821.9" y2="593.0" stroke="#7d7d7d" stroke-width="1.0" stroke-linecap="round"/>
<line x1="776.6" y1="522.4" x2="777.2" y2="607.0" stroke="#7d7d7d" stroke-width="1.0" stroke-linecap="round"/>
<line x1="702.8" y1="599.3" x2="777.2" y2="607.0" stroke="#7d7d7d" stroke-width="1.0" stroke-linecap="round"/>
<line x1="777.2" y1="607.0" x2="821.9" y2="593.0" stroke="#7d7d7d" stroke-width="1.0" stroke-linecap="round"/>
<circle cx="702.1" cy="514.7" r="4.2" fill="url(#gO)"/>
<circle cx="821.0" cy="508.3" r="4.2" fill="url(#gO)"/>
<circle cx="776.6" cy="522.4" r="4.2" fill="url(#gO)"/>
<circle cx="702.8" cy="599.3" r="4.2" fill="url(#gO)"/>
<circle cx="821.9" cy="593.0" r="4.2" fill="url(#gO)"/>
<circle cx="777.2" cy="607.0" r="4.2" fill="url(#gO)"/>
</g>
</g>
</svg>
</body>
</html>
